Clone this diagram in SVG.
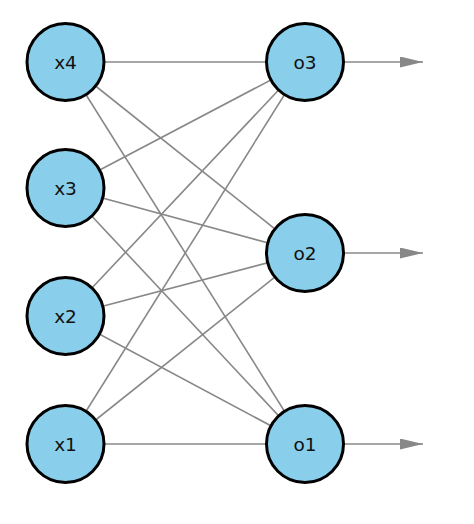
<svg xmlns="http://www.w3.org/2000/svg" width="474" height="524" viewBox="0 0 474 524">
<style>
.e{stroke:#888;stroke-width:1.6;fill:none}
.n{fill:#89CFEB;stroke:#000;stroke-width:3}
.t{font-family:"DejaVu Sans",sans-serif;font-size:18.5px;fill:#111;text-anchor:middle;dominant-baseline:central}
</style>
<defs>
<marker id="ah" markerWidth="24" markerHeight="12" refX="23" refY="5.5" orient="auto" markerUnits="userSpaceOnUse">
<path d="M0,0 L23,5.5 L0,11 Z" fill="#888"/>
</marker>
</defs>
<rect width="474" height="524" fill="#fff"/>
<g id="connectors">
<line class="e" x1="65.5" y1="62" x2="305" y2="62"/>
<line class="e" x1="65.5" y1="62" x2="305" y2="253"/>
<line class="e" x1="65.5" y1="62" x2="305" y2="444"/>
<line class="e" x1="65.5" y1="188" x2="305" y2="62"/>
<line class="e" x1="65.5" y1="188" x2="305" y2="253"/>
<line class="e" x1="65.5" y1="188" x2="305" y2="444"/>
<line class="e" x1="65.5" y1="316" x2="305" y2="62"/>
<line class="e" x1="65.5" y1="316" x2="305" y2="253"/>
<line class="e" x1="65.5" y1="316" x2="305" y2="444"/>
<line class="e" x1="65.5" y1="444" x2="305" y2="62"/>
<line class="e" x1="65.5" y1="444" x2="305" y2="253"/>
<line class="e" x1="65.5" y1="444" x2="305" y2="444"/>
<line class="e" x1="344" y1="62" x2="423" y2="62" marker-end="url(#ah)"/>
<line class="e" x1="344" y1="253" x2="423" y2="253" marker-end="url(#ah)"/>
<line class="e" x1="344" y1="444" x2="423" y2="444" marker-end="url(#ah)"/>
</g>
<g id="x4"><circle class="n" cx="65.5" cy="62" r="38.5"/><text class="t" x="65.5" y="62">x4</text></g>
<g id="x3"><circle class="n" cx="65.5" cy="188" r="38.5"/><text class="t" x="65.5" y="188">x3</text></g>
<g id="x2"><circle class="n" cx="65.5" cy="316" r="38.5"/><text class="t" x="65.5" y="316">x2</text></g>
<g id="x1"><circle class="n" cx="65.5" cy="444" r="38.5"/><text class="t" x="65.5" y="444">x1</text></g>
<g id="o3"><circle class="n" cx="305" cy="62" r="38.5"/><text class="t" x="305" y="62">o3</text></g>
<g id="o2"><circle class="n" cx="305" cy="253" r="38.5"/><text class="t" x="305" y="253">o2</text></g>
<g id="o1"><circle class="n" cx="305" cy="444" r="38.5"/><text class="t" x="305" y="444">o1</text></g>
</svg>
